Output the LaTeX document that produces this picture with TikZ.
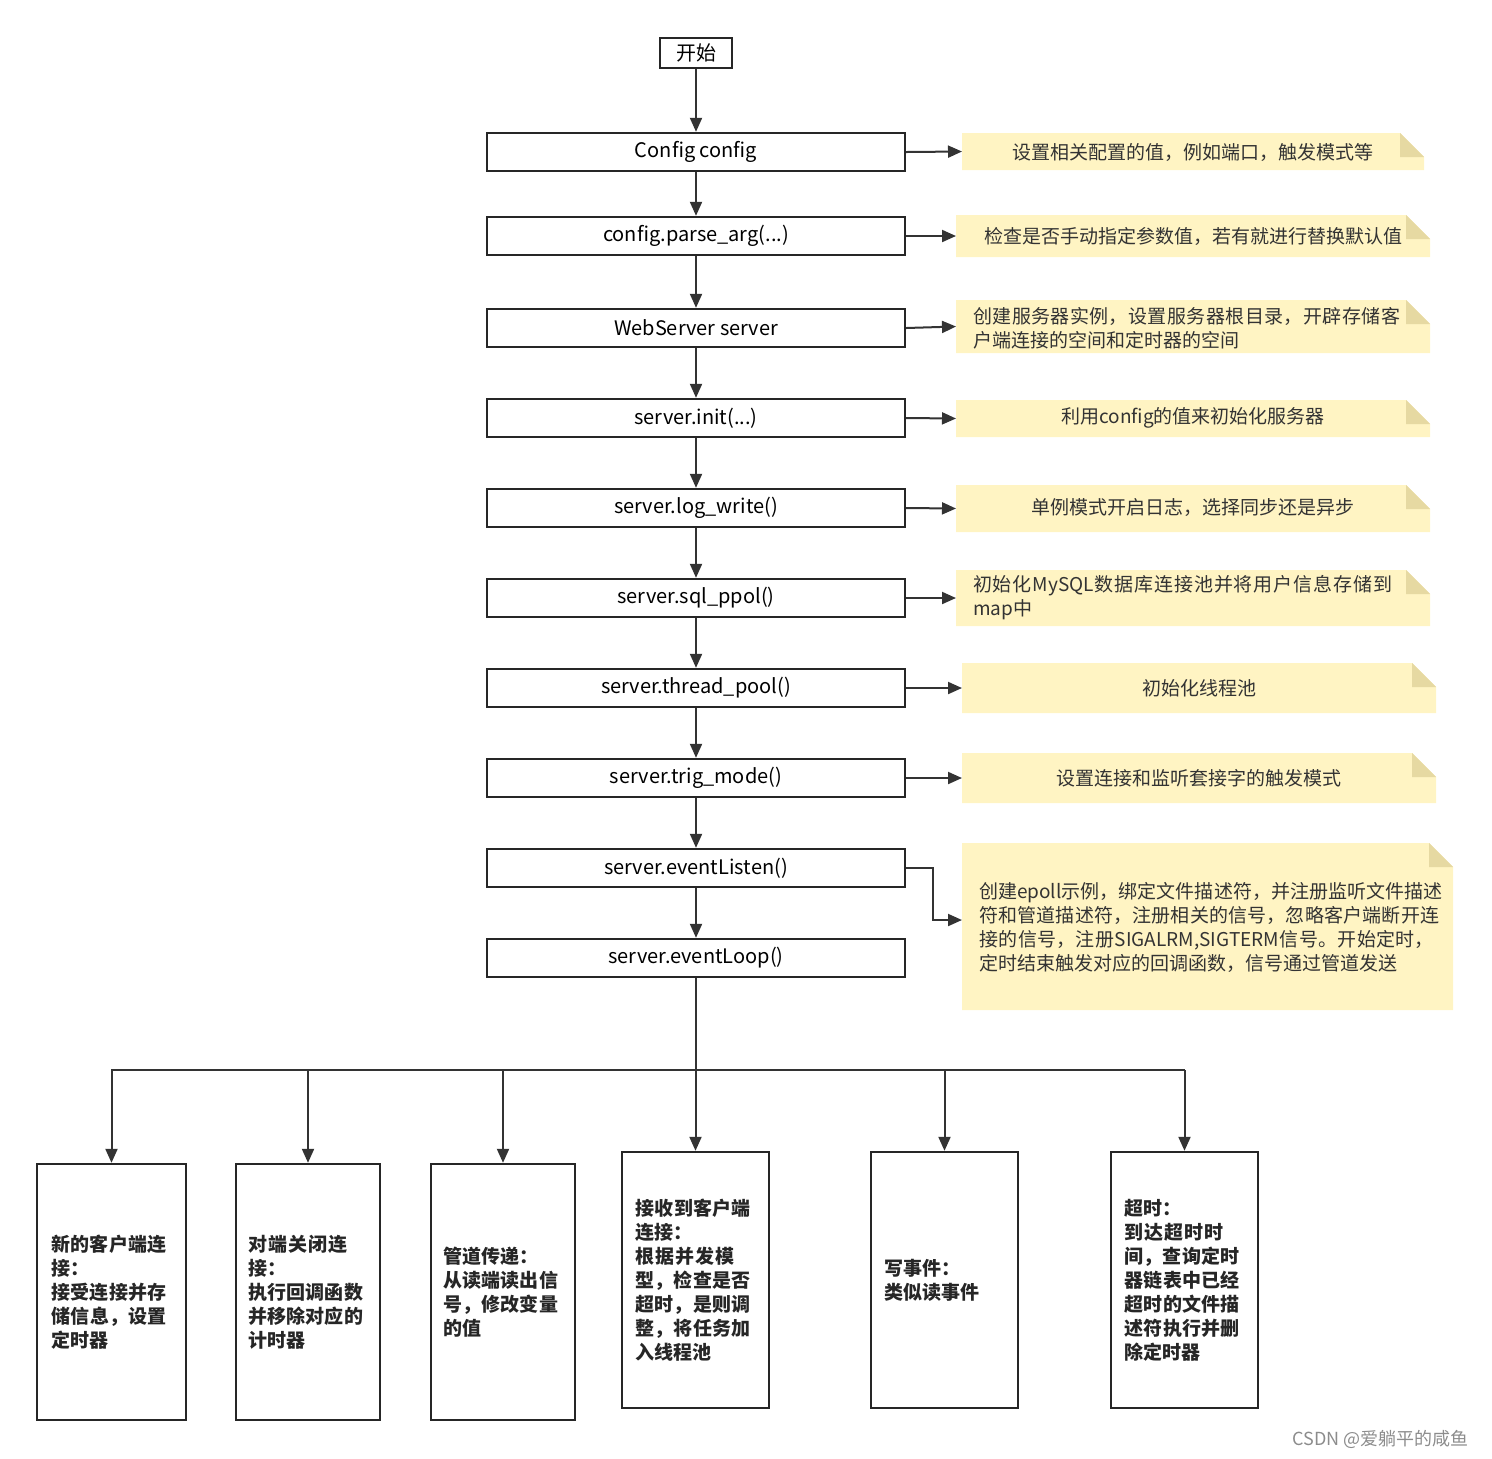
\documentclass[tikz,border=0pt]{standalone}
\usepackage{fontspec}
\setmainfont{Noto Sans CJK SC}
\XeTeXlinebreaklocale "zh"
\XeTeXlinebreakskip=0pt plus 1pt
\usetikzlibrary{arrows.meta}
\definecolor{notefill}{HTML}{FFF4C3}
\definecolor{notefold}{HTML}{E6D9A2}
\tikzset{
 stepbox/.style={draw=black!85,line width=1.2pt,minimum width=209pt,minimum height=19pt,inner sep=0pt,font=\fontsize{10}{12}\selectfont},
 arr/.style={-{Triangle[length=7pt,width=6pt]},line width=1pt,draw=black!80},
 notetext/.style={font=\fontsize{9.5}{12}\selectfont,align=left,text=black!80},
 bigbox/.style={draw=black!85,line width=1.2pt,inner sep=0pt},
 bigtext/.style={font=\bfseries\fontsize{9.5}{12}\selectfont,align=left,text=black!85,text width=60pt}
}
\newcommand{\mynote}[5]{% x1,y1,x2,y2,name
 \fill[notefill] (#1,#2) -- (#3-24,#2) -- (#3,#2+24) -- (#3,#4) -- (#1,#4) -- cycle;
 \fill[notefold] (#3-24,#2) -- (#3,#2+24) -- (#3-24,#2+24) -- cycle;
 \coordinate (#5) at (#1,{(#2+#4)/2});
}
\begin{document}
\begin{tikzpicture}[x=0.5pt,y=-0.5pt]
\useasboundingbox (0,0) rectangle (1492,1458);
\node[draw=black!85,line width=1.2pt,minimum width=36pt,minimum height=15pt,inner sep=0pt,font=\fontsize{10}{12}\selectfont] (start) at (696,53) {开始};
\node[stepbox] (s1) at (696,152) {Config config};
\node[stepbox] (s2) at (696,236) {config.parse\_arg(...)};
\node[stepbox] (s3) at (696,328) {WebServer server};
\node[stepbox] (s4) at (696,418) {server.init(...)};
\node[stepbox] (s5) at (696,508) {server.log\_write()};
\node[stepbox] (s6) at (696,598) {server.sql\_ppol()};
\node[stepbox] (s7) at (696,688) {server.thread\_pool()};
\node[stepbox] (s8) at (696,778) {server.trig\_mode()};
\node[stepbox] (s9) at (696,868) {server.eventListen()};
\node[stepbox] (s10) at (696,958) {server.eventLoop()};
\draw[arr] (start) -- (s1);
\foreach \a/\b in {s1/s2,s2/s3,s3/s4,s4/s5,s5/s6,s6/s7,s7/s8,s8/s9,s9/s10} \draw[arr] (\a) -- (\b);

\mynote{962}{133}{1424}{170}{n1}
\mynote{956}{215}{1430}{257}{n2}
\mynote{956}{300}{1430}{353}{n3}
\mynote{956}{400}{1430}{437}{n4}
\mynote{956}{485}{1430}{532}{n5}
\mynote{956}{570}{1430}{626}{n6}
\mynote{962}{663}{1436}{713}{n7}
\mynote{962}{753}{1436}{803}{n8}
\mynote{962}{843}{1453}{1010}{n9}
\node[notetext] at (1193,152) {设置相关配置的值，例如端口，触发模式等};
\node[notetext] at (1193,236) {检查是否手动指定参数值，若有就进行替换默认值};
\node[notetext,anchor=west,text width=218pt] at (966,328) {创建服务器实例，设置服务器根目录，开辟存储客户端连接的空间和定时器的空间};
\node[notetext] at (1193,418) {利用config的值来初始化服务器};
\node[notetext] at (1193,508) {单例模式开启日志，选择同步还是异步};
\node[notetext,anchor=west,text width=218pt] at (966,598) {初始化MySQL数据库连接池并将用户信息存储到map中};
\node[notetext] at (1199,688) {初始化线程池};
\node[notetext] at (1199,778) {设置连接和监听套接字的触发模式};
\node[notetext,anchor=west,text width=232pt] at (972,927) {创建epoll示例，绑定文件描述符，并注册监听文件描述符和管道描述符，注册相关的信号，忽略客户端断开连接的信号，注册SIGALRM,SIGTERM信号。开始定时，定时结束触发对应的回调函数，信号通过管道发送};
\draw[arr] (s1.east) -- (n1);
\draw[arr] (s2.east) -- (n2);
\draw[arr] (s3.east) -- (n3);
\draw[arr] (s4.east) -- (n4);
\draw[arr] (s5.east) -- (n5);
\draw[arr] (s6.east) -- (n6);
\draw[arr] (s7.east) -- (n7);
\draw[arr] (s8.east) -- (n8);
\draw[arr] (s9.east) -- (933,868) |- (962,920);

\node[bigbox,minimum width=74.5pt,minimum height=128pt] (b1) at (111.5,1292) {};
\node[bigbox,minimum width=72pt,minimum height=128pt] (b2) at (308,1292) {};
\node[bigbox,minimum width=72pt,minimum height=128pt] (b3) at (503,1292) {};
\node[bigbox,minimum width=73.5pt,minimum height=128pt] (b4) at (695.5,1280) {};
\node[bigbox,minimum width=73.5pt,minimum height=128pt] (b5) at (944.5,1280) {};
\node[bigbox,minimum width=73.5pt,minimum height=128pt] (b6) at (1184.5,1280) {};
\node[bigtext] at (b1) {新的客户端连接：\\接受连接并存储信息，设置定时器};
\node[bigtext] at (b2) {对端关闭连接：\\执行回调函数并移除对应的计时器};
\node[bigtext] at (b3) {管道传递：\\从读端读出信号，修改变量的值};
\node[bigtext] at (b4) {接收到客户端连接：\\根据并发模型，检查是否超时，是则调整，将任务加入线程池};
\node[bigtext] at (b5) {写事件：\\类似读事件};
\node[bigtext] at (b6) {超时：\\到达超时时间，查询定时器链表中已经超时的文件描述符执行并删除定时器};
\coordinate (j) at (696,1070);
\draw[line width=1pt,draw=black!80] (s10.south) -- (j);
\draw[line width=1pt,draw=black!80] (111,1070) -- (1185,1070);
\foreach \b in {b1,b2,b3,b4,b5,b6} \draw[arr] (j -| \b) -- (\b.north);
\node[text=black!45,font=\fontsize{9}{11}\selectfont,anchor=east] at (1476,1439) {CSDN @爱躺平的咸鱼};
\end{tikzpicture}
\end{document}
